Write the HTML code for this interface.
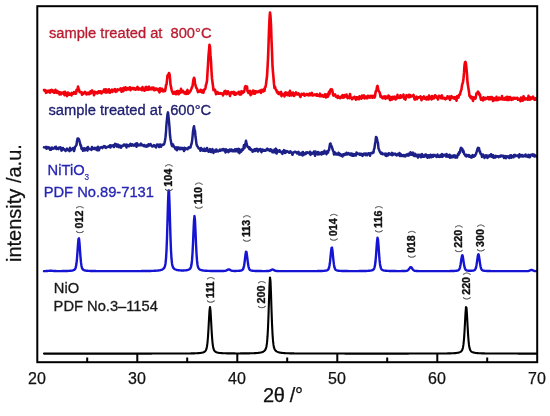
<!DOCTYPE html>
<html><head><meta charset="utf-8"><title>XRD</title>
<style>
html,body{margin:0;padding:0;background:#fff;}
body{width:550px;height:416px;overflow:hidden;}
svg{display:block;}
text{white-space:pre;font-family:"Liberation Sans",Arial,"Noto Sans CJK SC",sans-serif;}
.tl{font-size:16px;fill:#111;stroke:#111;stroke-width:0.25px;}
.ax{font-size:20px;fill:#111;stroke:#111;stroke-width:0.25px;}
.lg{font-size:14.7px;stroke-width:0.32px;}
.hkl{font-size:10px;font-weight:bold;fill:#111;stroke:#111;stroke-width:0.35px;}
.hkl .par{stroke:#555;stroke-width:0.25px;}
.hkl .par{font-weight:normal;fill:#444;font-size:8px;font-family:"Noto Sans CJK SC",sans-serif;}
</style></head><body>
<svg width="550" height="416" viewBox="0 0 550 416">
<rect width="550" height="416" fill="#fff"/>
<path d="M44.0 90.00L44.5 90.57L45.0 90.03L45.5 91.31L46.0 92.85L46.5 90.82L47.0 90.75L47.5 92.10L48.0 92.02L48.5 91.80L49.0 90.68L49.5 91.79L50.0 92.70L50.5 90.42L51.0 91.50L51.5 89.91L52.0 90.68L52.5 90.11L53.0 92.02L53.5 90.90L54.0 92.73L54.5 92.67L55.0 92.34L55.5 89.72L56.0 92.06L56.5 92.69L57.0 92.94L57.5 91.12L58.0 92.39L58.5 91.88L59.0 92.14L59.5 94.36L60.0 92.27L60.5 93.21L61.0 94.31L61.5 92.66L62.0 93.25L62.5 93.55L63.0 93.54L63.5 92.11L64.0 93.65L64.5 95.17L65.0 91.87L65.5 94.68L66.0 93.87L66.5 93.04L67.0 96.12L67.5 94.74L68.0 92.52L68.5 93.97L69.0 94.53L69.5 93.62L70.0 94.60L70.5 93.72L71.0 94.53L71.5 95.39L72.0 92.92L72.5 93.88L73.0 93.06L73.5 93.66L74.0 92.05L74.5 92.61L75.0 92.84L75.5 93.76L76.0 93.53L76.5 89.96L77.0 89.64L77.5 90.33L78.0 86.65L78.5 88.46L79.0 89.60L79.5 92.09L80.0 92.29L80.5 91.77L81.0 92.16L81.5 92.56L82.0 94.76L82.5 92.60L83.0 92.79L83.5 93.58L84.0 93.05L84.5 92.97L85.0 91.92L85.5 93.17L86.0 92.65L86.5 94.48L87.0 93.86L87.5 93.06L88.0 93.83L88.5 92.64L89.0 94.21L89.5 92.96L90.0 93.61L90.5 91.42L91.0 93.27L91.5 90.90L92.0 90.46L92.5 92.42L93.0 91.70L93.5 92.89L94.0 95.25L94.5 91.68L95.0 91.88L95.5 92.83L96.0 93.15L96.5 92.37L97.0 92.32L97.5 93.36L98.0 93.14L98.5 91.34L99.0 92.43L99.5 92.55L100.0 91.29L100.5 92.72L101.0 91.36L101.5 93.39L102.0 92.42L102.5 92.23L103.0 91.37L103.5 91.84L104.0 89.60L104.5 90.53L105.0 92.17L105.5 89.23L106.0 92.57L106.5 89.52L107.0 92.32L107.5 90.40L108.0 92.20L108.5 91.38L109.0 89.38L109.5 92.51L110.0 92.66L110.5 90.87L111.0 90.59L111.5 90.67L112.0 89.68L112.5 92.01L113.0 90.08L113.5 90.59L114.0 89.69L114.5 89.83L115.0 89.03L115.5 91.90L116.0 90.22L116.5 91.46L117.0 90.32L117.5 89.45L118.0 89.82L118.5 89.51L119.0 90.11L119.5 89.62L120.0 89.66L120.5 88.35L121.0 88.93L121.5 91.70L122.0 88.95L122.5 88.44L123.0 89.98L123.5 91.14L124.0 87.78L124.5 89.14L125.0 88.59L125.5 87.22L126.0 90.02L126.5 89.08L127.0 89.12L127.5 88.10L128.0 89.42L128.5 88.24L129.0 88.66L129.5 87.52L130.0 87.36L130.5 90.26L131.0 88.10L131.5 88.99L132.0 88.58L132.5 88.07L133.0 87.96L133.5 89.23L134.0 88.12L134.5 88.26L135.0 88.43L135.5 89.76L136.0 89.20L136.5 88.87L137.0 87.79L137.5 86.86L138.0 89.56L138.5 89.59L139.0 88.32L139.5 89.12L140.0 89.40L140.5 89.47L141.0 89.58L141.5 88.01L142.0 90.29L142.5 87.12L143.0 89.55L143.5 89.14L144.0 89.59L144.5 90.75L145.0 90.31L145.5 87.34L146.0 86.77L146.5 89.70L147.0 87.65L147.5 88.85L148.0 89.89L148.5 87.08L149.0 86.60L149.5 89.38L150.0 89.18L150.5 88.90L151.0 89.27L151.5 88.29L152.0 87.59L152.5 89.18L153.0 88.31L153.5 87.58L154.0 90.10L154.5 89.49L155.0 90.07L155.5 88.52L156.0 88.95L156.5 88.61L157.0 88.78L157.5 90.07L158.0 88.99L158.5 90.33L159.0 90.35L159.5 92.31L160.0 88.40L160.5 91.16L161.0 90.16L161.5 90.36L162.0 88.80L162.5 90.00L163.0 91.42L163.5 90.46L164.0 90.55L164.5 89.88L165.0 91.08L165.5 88.89L166.0 85.01L166.5 84.66L167.0 80.33L167.5 75.36L168.0 74.91L168.5 74.55L169.0 72.99L169.5 74.08L170.0 78.22L170.5 84.57L171.0 86.85L171.5 89.36L172.0 91.14L172.5 92.18L173.0 93.59L173.5 93.58L174.0 93.32L174.5 91.91L175.0 93.67L175.5 92.24L176.0 94.20L176.5 91.38L177.0 92.56L177.5 92.58L178.0 90.92L178.5 94.27L179.0 93.81L179.5 91.44L180.0 92.69L180.5 92.29L181.0 88.89L181.5 92.23L182.0 91.91L182.5 92.11L183.0 90.81L183.5 91.76L184.0 91.89L184.5 93.48L185.0 92.51L185.5 92.13L186.0 93.89L186.5 91.48L187.0 91.65L187.5 89.95L188.0 93.77L188.5 92.98L189.0 92.79L189.5 92.30L190.0 91.35L190.5 90.98L191.0 89.65L191.5 88.47L192.0 86.98L192.5 86.31L193.0 82.51L193.5 79.41L194.0 77.80L194.5 78.74L195.0 83.69L195.5 85.11L196.0 86.94L196.5 88.23L197.0 88.56L197.5 90.53L198.0 92.07L198.5 90.88L199.0 91.23L199.5 91.32L200.0 91.73L200.5 89.79L201.0 91.33L201.5 90.56L202.0 92.47L202.5 90.42L203.0 91.77L203.5 92.58L204.0 90.08L204.5 89.20L205.0 89.29L205.5 87.80L206.0 84.70L206.5 83.40L207.0 80.87L207.5 72.38L208.0 65.09L208.5 55.97L209.0 50.26L209.5 44.73L210.0 46.63L210.5 55.68L211.0 61.35L211.5 71.54L212.0 78.66L212.5 82.25L213.0 86.17L213.5 90.22L214.0 89.36L214.5 90.00L215.0 89.88L215.5 92.05L216.0 94.14L216.5 93.90L217.0 92.02L217.5 92.24L218.0 92.73L218.5 93.71L219.0 93.18L219.5 93.69L220.0 93.79L220.5 93.10L221.0 93.39L221.5 93.65L222.0 93.29L222.5 93.93L223.0 95.46L223.5 93.94L224.0 93.27L224.5 91.22L225.0 93.55L225.5 90.89L226.0 91.54L226.5 94.17L227.0 94.02L227.5 93.06L228.0 91.28L228.5 92.84L229.0 92.51L229.5 94.04L230.0 95.91L230.5 93.58L231.0 92.45L231.5 92.01L232.0 93.30L232.5 93.17L233.0 92.06L233.5 93.52L234.0 92.07L234.5 94.68L235.0 94.62L235.5 94.67L236.0 92.90L236.5 94.05L237.0 93.33L237.5 93.05L238.0 93.11L238.5 92.02L239.0 91.85L239.5 94.42L240.0 93.28L240.5 93.66L241.0 94.45L241.5 91.17L242.0 92.09L242.5 92.93L243.0 92.79L243.5 91.30L244.0 92.04L244.5 89.94L245.0 86.98L245.5 86.17L246.0 87.81L246.5 88.04L247.0 86.49L247.5 91.41L248.0 91.49L248.5 93.01L249.0 91.42L249.5 91.75L250.0 90.90L250.5 95.22L251.0 92.17L251.5 94.25L252.0 91.71L252.5 92.67L253.0 90.57L253.5 92.05L254.0 93.62L254.5 91.04L255.0 93.70L255.5 92.83L256.0 91.21L256.5 91.79L257.0 91.80L257.5 92.21L258.0 91.58L258.5 91.23L259.0 91.81L259.5 90.93L260.0 90.57L260.5 91.90L261.0 92.86L261.5 89.93L262.0 91.50L262.5 90.47L263.0 89.75L263.5 91.42L264.0 89.29L264.5 90.87L265.0 87.23L265.5 87.09L266.0 84.16L266.5 80.13L267.0 76.50L267.5 68.17L268.0 58.88L268.5 45.44L269.0 30.17L269.5 18.75L270.0 12.47L270.5 16.47L271.0 25.13L271.5 40.15L272.0 51.78L272.5 65.85L273.0 72.49L273.5 77.78L274.0 83.94L274.5 88.03L275.0 86.85L275.5 88.62L276.0 89.95L276.5 90.23L277.0 92.55L277.5 91.67L278.0 92.17L278.5 93.92L279.0 92.59L279.5 94.12L280.0 92.64L280.5 92.47L281.0 91.85L281.5 96.17L282.0 93.72L282.5 94.42L283.0 94.14L283.5 94.39L284.0 94.28L284.5 96.43L285.0 93.05L285.5 92.45L286.0 93.08L286.5 92.70L287.0 95.08L287.5 95.15L288.0 93.08L288.5 92.57L289.0 93.74L289.5 95.73L290.0 90.86L290.5 94.74L291.0 92.94L291.5 95.41L292.0 93.01L292.5 93.95L293.0 92.58L293.5 93.22L294.0 95.97L294.5 95.35L295.0 93.98L295.5 93.47L296.0 92.32L296.5 94.07L297.0 94.51L297.5 94.48L298.0 94.49L298.5 93.34L299.0 94.58L299.5 94.63L300.0 96.18L300.5 96.87L301.0 94.60L301.5 93.90L302.0 94.73L302.5 94.14L303.0 94.01L303.5 94.82L304.0 93.71L304.5 95.63L305.0 94.84L305.5 95.27L306.0 94.80L306.5 94.20L307.0 93.97L307.5 94.81L308.0 94.48L308.5 95.40L309.0 95.15L309.5 93.61L310.0 95.28L310.5 93.68L311.0 94.54L311.5 94.93L312.0 92.90L312.5 95.42L313.0 95.51L313.5 95.17L314.0 94.89L314.5 94.97L315.0 94.30L315.5 95.13L316.0 94.82L316.5 95.58L317.0 94.11L317.5 95.79L318.0 95.70L318.5 95.39L319.0 95.06L319.5 96.22L320.0 93.69L320.5 96.18L321.0 95.99L321.5 96.09L322.0 96.25L322.5 95.11L323.0 95.60L323.5 96.68L324.0 96.48L324.5 96.25L325.0 94.30L325.5 96.68L326.0 97.41L326.5 97.21L327.0 96.27L327.5 94.06L328.0 96.70L328.5 95.05L329.0 91.69L329.5 94.14L330.0 90.80L330.5 89.65L331.0 89.20L331.5 90.89L332.0 89.54L332.5 91.53L333.0 94.64L333.5 95.69L334.0 94.68L334.5 95.18L335.0 94.44L335.5 95.37L336.0 96.84L336.5 96.93L337.0 96.70L337.5 97.79L338.0 95.82L338.5 96.70L339.0 97.66L339.5 97.53L340.0 98.13L340.5 97.38L341.0 96.59L341.5 97.39L342.0 95.84L342.5 95.12L343.0 97.69L343.5 96.98L344.0 97.41L344.5 95.12L345.0 96.67L345.5 96.41L346.0 96.12L346.5 94.53L347.0 96.75L347.5 98.18L348.0 97.60L348.5 96.48L349.0 97.16L349.5 98.06L350.0 94.03L350.5 97.07L351.0 97.86L351.5 98.03L352.0 99.22L352.5 98.59L353.0 97.66L353.5 97.66L354.0 98.23L354.5 96.72L355.0 97.31L355.5 98.42L356.0 99.64L356.5 97.22L357.0 97.36L357.5 97.66L358.0 98.99L358.5 97.43L359.0 99.16L359.5 96.38L360.0 97.29L360.5 97.24L361.0 98.34L361.5 98.61L362.0 95.63L362.5 96.28L363.0 97.69L363.5 96.51L364.0 95.48L364.5 98.39L365.0 97.73L365.5 97.69L366.0 96.53L366.5 98.22L367.0 96.72L367.5 98.21L368.0 95.85L368.5 95.93L369.0 97.15L369.5 96.10L370.0 97.68L370.5 97.18L371.0 95.79L371.5 96.89L372.0 96.34L372.5 97.70L373.0 95.76L373.5 95.72L374.0 97.19L374.5 97.67L375.0 96.32L375.5 92.59L376.0 90.86L376.5 90.35L377.0 86.97L377.5 85.86L378.0 88.44L378.5 90.87L379.0 91.41L379.5 92.14L380.0 93.60L380.5 96.84L381.0 95.74L381.5 96.80L382.0 97.44L382.5 98.08L383.0 97.11L383.5 98.10L384.0 96.51L384.5 97.12L385.0 96.35L385.5 98.81L386.0 97.46L386.5 96.61L387.0 97.02L387.5 97.14L388.0 98.17L388.5 95.49L389.0 96.09L389.5 96.81L390.0 100.11L390.5 98.30L391.0 97.08L391.5 98.03L392.0 99.58L392.5 96.95L393.0 96.80L393.5 98.61L394.0 97.79L394.5 97.99L395.0 96.64L395.5 99.43L396.0 99.18L396.5 97.87L397.0 98.00L397.5 94.88L398.0 97.94L398.5 96.99L399.0 97.71L399.5 97.99L400.0 96.81L400.5 95.27L401.0 97.64L401.5 96.38L402.0 96.86L402.5 96.55L403.0 96.86L403.5 94.60L404.0 98.66L404.5 97.56L405.0 98.55L405.5 99.55L406.0 97.30L406.5 95.19L407.0 96.22L407.5 95.83L408.0 96.60L408.5 97.20L409.0 94.70L409.5 97.26L410.0 94.96L410.5 96.85L411.0 96.22L411.5 95.91L412.0 96.24L412.5 95.85L413.0 95.97L413.5 94.94L414.0 97.01L414.5 99.31L415.0 99.57L415.5 98.89L416.0 98.23L416.5 96.68L417.0 99.15L417.5 97.45L418.0 97.46L418.5 97.22L419.0 97.68L419.5 97.09L420.0 97.50L420.5 96.37L421.0 97.20L421.5 100.26L422.0 97.57L422.5 97.39L423.0 98.28L423.5 98.50L424.0 96.41L424.5 97.46L425.0 98.77L425.5 98.03L426.0 97.87L426.5 99.53L427.0 96.97L427.5 97.85L428.0 97.17L428.5 99.49L429.0 95.54L429.5 97.02L430.0 97.19L430.5 98.55L431.0 98.48L431.5 99.38L432.0 95.96L432.5 98.62L433.0 97.41L433.5 96.97L434.0 98.35L434.5 96.66L435.0 95.32L435.5 97.27L436.0 95.97L436.5 96.93L437.0 98.10L437.5 98.02L438.0 99.47L438.5 97.41L439.0 95.86L439.5 96.74L440.0 96.54L440.5 96.23L441.0 98.17L441.5 96.96L442.0 95.46L442.5 98.56L443.0 97.67L443.5 98.23L444.0 97.98L444.5 98.61L445.0 97.96L445.5 99.36L446.0 98.45L446.5 98.44L447.0 98.49L447.5 96.36L448.0 97.87L448.5 97.78L449.0 98.34L449.5 96.55L450.0 100.00L450.5 98.26L451.0 96.75L451.5 96.18L452.0 97.82L452.5 98.04L453.0 97.30L453.5 98.22L454.0 97.35L454.5 98.68L455.0 97.17L455.5 97.88L456.0 98.95L456.5 100.66L457.0 96.39L457.5 96.81L458.0 96.10L458.5 97.59L459.0 94.85L459.5 94.90L460.0 94.48L460.5 92.16L461.0 90.65L461.5 89.37L462.0 85.38L462.5 83.66L463.0 81.78L463.5 78.38L464.0 72.89L464.5 65.44L465.0 62.22L465.5 61.97L466.0 64.15L466.5 68.94L467.0 74.52L467.5 82.30L468.0 85.83L468.5 88.83L469.0 91.84L469.5 96.17L470.0 95.91L470.5 97.76L471.0 96.40L471.5 98.42L472.0 96.93L472.5 97.66L473.0 100.86L473.5 98.92L474.0 97.44L474.5 97.81L475.0 98.03L475.5 98.59L476.0 95.88L476.5 93.33L477.0 93.59L477.5 92.43L478.0 91.53L478.5 93.05L479.0 93.06L479.5 95.16L480.0 94.35L480.5 97.66L481.0 99.79L481.5 98.71L482.0 98.37L482.5 98.41L483.0 100.38L483.5 97.31L484.0 98.29L484.5 98.96L485.0 99.30L485.5 97.95L486.0 98.80L486.5 98.12L487.0 98.56L487.5 98.26L488.0 97.08L488.5 98.35L489.0 99.36L489.5 97.21L490.0 98.02L490.5 99.08L491.0 97.09L491.5 98.55L492.0 97.13L492.5 99.66L493.0 101.02L493.5 100.70L494.0 98.13L494.5 99.24L495.0 98.53L495.5 98.52L496.0 100.19L496.5 96.89L497.0 99.63L497.5 98.37L498.0 100.05L498.5 98.65L499.0 97.66L499.5 98.76L500.0 99.29L500.5 98.49L501.0 99.01L501.5 97.86L502.0 96.00L502.5 99.50L503.0 99.27L503.5 98.64L504.0 98.55L504.5 99.67L505.0 97.95L505.5 97.67L506.0 98.27L506.5 99.85L507.0 96.89L507.5 99.86L508.0 97.76L508.5 97.23L509.0 99.94L509.5 98.39L510.0 97.00L510.5 98.09L511.0 99.57L511.5 99.87L512.0 98.01L512.5 98.97L513.0 99.32L513.5 97.76L514.0 98.91L514.5 98.47L515.0 97.89L515.5 97.94L516.0 98.58L516.5 98.54L517.0 97.86L517.5 98.02L518.0 99.79L518.5 98.75L519.0 99.52L519.5 99.89L520.0 99.18L520.5 101.12L521.0 97.56L521.5 99.44L522.0 98.14L522.5 100.64L523.0 100.46L523.5 96.26L524.0 97.39L524.5 99.27L525.0 99.41L525.5 99.35L526.0 98.42L526.5 99.03L527.0 99.26L527.5 98.42L528.0 99.69L528.5 95.91L529.0 99.23L529.5 97.32L530.0 99.61L530.5 98.24L531.0 97.48L531.5 98.93L532.0 97.45L532.5 97.45L533.0 96.70L533.5 98.47L534.0 99.07L534.5 99.68L535.0 98.34L535.5 99.71L536.0 98.52L536.5 98.39" fill="none" stroke="#f2000c" stroke-width="2.6" stroke-linejoin="round" stroke-linecap="round"/>
<path d="M44.0 147.26L44.5 147.39L45.0 147.50L45.5 147.75L46.0 146.90L46.5 148.68L47.0 147.43L47.5 148.24L48.0 147.11L48.5 148.22L49.0 148.28L49.5 147.59L50.0 149.82L50.5 148.39L51.0 149.71L51.5 149.03L52.0 147.63L52.5 147.93L53.0 148.73L53.5 148.44L54.0 148.49L54.5 148.24L55.0 146.93L55.5 148.41L56.0 146.67L56.5 149.05L57.0 148.12L57.5 148.19L58.0 148.69L58.5 149.18L59.0 147.70L59.5 147.47L60.0 148.14L60.5 147.29L61.0 148.29L61.5 150.63L62.0 148.28L62.5 149.85L63.0 148.06L63.5 149.59L64.0 149.06L64.5 149.33L65.0 149.92L65.5 151.01L66.0 149.64L66.5 149.60L67.0 148.63L67.5 150.06L68.0 149.33L68.5 150.32L69.0 149.54L69.5 151.16L70.0 147.82L70.5 149.30L71.0 150.31L71.5 149.15L72.0 148.68L72.5 149.08L73.0 147.97L73.5 149.18L74.0 151.06L74.5 149.59L75.0 147.05L75.5 146.44L76.0 145.58L76.5 145.00L77.0 141.00L77.5 138.66L78.0 138.43L78.5 138.61L79.0 139.40L79.5 141.22L80.0 143.09L80.5 145.59L81.0 145.39L81.5 148.81L82.0 148.02L82.5 149.30L83.0 150.73L83.5 150.23L84.0 148.23L84.5 150.12L85.0 150.44L85.5 148.72L86.0 148.52L86.5 149.26L87.0 147.89L87.5 150.62L88.0 147.10L88.5 148.23L89.0 148.94L89.5 148.93L90.0 149.24L90.5 149.29L91.0 148.81L91.5 149.98L92.0 146.98L92.5 148.86L93.0 148.16L93.5 148.87L94.0 148.90L94.5 147.83L95.0 148.02L95.5 149.23L96.0 148.76L96.5 147.75L97.0 150.12L97.5 150.28L98.0 146.81L98.5 148.31L99.0 150.22L99.5 148.59L100.0 148.00L100.5 147.54L101.0 147.16L101.5 147.39L102.0 147.01L102.5 148.10L103.0 146.99L103.5 146.88L104.0 146.12L104.5 147.08L105.0 146.25L105.5 146.82L106.0 147.84L106.5 147.16L107.0 147.21L107.5 147.00L108.0 146.66L108.5 146.41L109.0 146.17L109.5 147.06L110.0 145.32L110.5 147.47L111.0 146.26L111.5 145.52L112.0 145.72L112.5 145.52L113.0 146.24L113.5 145.41L114.0 147.05L114.5 145.28L115.0 143.91L115.5 145.26L116.0 144.07L116.5 145.81L117.0 146.76L117.5 146.36L118.0 144.54L118.5 145.02L119.0 147.27L119.5 145.92L120.0 145.60L120.5 146.54L121.0 147.78L121.5 146.72L122.0 145.67L122.5 145.85L123.0 146.07L123.5 144.95L124.0 144.53L124.5 145.51L125.0 144.60L125.5 145.38L126.0 145.51L126.5 147.51L127.0 144.63L127.5 145.27L128.0 145.21L128.5 145.74L129.0 146.27L129.5 144.87L130.0 144.56L130.5 143.82L131.0 144.47L131.5 145.79L132.0 145.34L132.5 144.39L133.0 144.97L133.5 145.33L134.0 145.76L134.5 144.77L135.0 145.08L135.5 143.67L136.0 144.27L136.5 146.76L137.0 143.34L137.5 145.00L138.0 145.50L138.5 144.97L139.0 144.57L139.5 145.25L140.0 145.30L140.5 145.24L141.0 143.64L141.5 145.21L142.0 144.58L142.5 144.87L143.0 145.58L143.5 145.96L144.0 146.21L144.5 144.96L145.0 146.25L145.5 146.49L146.0 146.46L146.5 146.70L147.0 145.33L147.5 145.31L148.0 146.22L148.5 144.25L149.0 145.68L149.5 145.02L150.0 145.17L150.5 143.98L151.0 144.79L151.5 145.61L152.0 146.47L152.5 146.60L153.0 145.68L153.5 145.62L154.0 145.07L154.5 146.21L155.0 145.65L155.5 146.45L156.0 147.50L156.5 145.91L157.0 144.60L157.5 145.17L158.0 144.63L158.5 144.85L159.0 147.08L159.5 146.06L160.0 144.43L160.5 146.33L161.0 146.79L161.5 145.21L162.0 144.75L162.5 144.80L163.0 144.98L163.5 144.72L164.0 144.28L164.5 142.82L165.0 140.46L165.5 137.16L166.0 131.77L166.5 123.90L167.0 118.86L167.5 114.29L168.0 112.36L168.5 116.70L169.0 121.49L169.5 127.44L170.0 135.22L170.5 138.91L171.0 141.65L171.5 144.41L172.0 145.93L172.5 146.21L173.0 144.34L173.5 146.43L174.0 147.01L174.5 146.85L175.0 148.18L175.5 149.20L176.0 147.80L176.5 147.29L177.0 150.20L177.5 148.02L178.0 147.36L178.5 148.71L179.0 148.90L179.5 147.89L180.0 149.25L180.5 148.10L181.0 147.70L181.5 148.68L182.0 149.19L182.5 147.93L183.0 148.80L183.5 148.41L184.0 151.02L184.5 147.82L185.0 149.68L185.5 148.35L186.0 148.23L186.5 148.93L187.0 149.00L187.5 149.28L188.0 148.34L188.5 147.37L189.0 147.23L189.5 147.87L190.0 147.45L190.5 147.41L191.0 145.30L191.5 144.01L192.0 141.77L192.5 137.11L193.0 131.68L193.5 128.34L194.0 126.22L194.5 129.86L195.0 130.88L195.5 136.81L196.0 140.03L196.5 144.13L197.0 145.76L197.5 146.33L198.0 147.27L198.5 148.21L199.0 148.76L199.5 148.46L200.0 149.17L200.5 150.82L201.0 147.98L201.5 149.87L202.0 148.92L202.5 149.98L203.0 150.64L203.5 149.90L204.0 150.71L204.5 148.63L205.0 151.10L205.5 149.60L206.0 150.74L206.5 150.38L207.0 147.92L207.5 149.60L208.0 150.50L208.5 151.73L209.0 150.61L209.5 150.61L210.0 149.13L210.5 151.71L211.0 152.07L211.5 150.48L212.0 150.28L212.5 149.04L213.0 151.30L213.5 152.96L214.0 151.19L214.5 151.69L215.0 151.06L215.5 149.70L216.0 151.80L216.5 149.50L217.0 150.44L217.5 150.89L218.0 151.45L218.5 151.04L219.0 151.02L219.5 150.00L220.0 149.54L220.5 150.75L221.0 150.05L221.5 149.51L222.0 149.55L222.5 150.24L223.0 149.01L223.5 149.46L224.0 149.20L224.5 150.83L225.0 151.03L225.5 152.46L226.0 149.30L226.5 150.03L227.0 151.46L227.5 150.44L228.0 150.33L228.5 152.16L229.0 150.31L229.5 149.57L230.0 149.41L230.5 150.93L231.0 150.92L231.5 149.44L232.0 149.81L232.5 151.20L233.0 151.26L233.5 150.18L234.0 151.34L234.5 151.31L235.0 149.21L235.5 150.54L236.0 151.21L236.5 150.33L237.0 148.93L237.5 150.61L238.0 151.54L238.5 152.28L239.0 148.88L239.5 153.18L240.0 149.79L240.5 151.55L241.0 151.67L241.5 151.27L242.0 150.28L242.5 148.73L243.0 149.78L243.5 147.73L244.0 144.89L244.5 148.13L245.0 144.41L245.5 143.80L246.0 140.65L246.5 143.42L247.0 145.07L247.5 146.78L248.0 146.87L248.5 146.95L249.0 148.65L249.5 147.32L250.0 148.07L250.5 149.86L251.0 148.98L251.5 149.79L252.0 149.88L252.5 151.74L253.0 151.19L253.5 149.98L254.0 151.11L254.5 149.31L255.0 149.70L255.5 150.84L256.0 148.91L256.5 149.79L257.0 148.86L257.5 150.17L258.0 151.54L258.5 149.40L259.0 150.28L259.5 149.28L260.0 149.05L260.5 148.98L261.0 151.40L261.5 152.22L262.0 150.53L262.5 149.45L263.0 150.73L263.5 149.80L264.0 150.82L264.5 150.36L265.0 150.35L265.5 150.69L266.0 149.67L266.5 149.87L267.0 148.73L267.5 149.93L268.0 149.09L268.5 150.29L269.0 149.60L269.5 150.60L270.0 150.96L270.5 149.32L271.0 149.91L271.5 149.84L272.0 151.41L272.5 152.31L273.0 151.59L273.5 150.55L274.0 152.23L274.5 149.59L275.0 152.35L275.5 150.47L276.0 148.62L276.5 153.57L277.0 152.66L277.5 150.37L278.0 151.51L278.5 151.23L279.0 151.57L279.5 150.21L280.0 150.99L280.5 152.05L281.0 151.86L281.5 152.77L282.0 151.79L282.5 153.87L283.0 151.14L283.5 152.04L284.0 150.12L284.5 150.74L285.0 153.10L285.5 151.08L286.0 152.44L286.5 151.94L287.0 151.08L287.5 151.74L288.0 151.62L288.5 151.67L289.0 152.82L289.5 152.76L290.0 151.68L290.5 151.42L291.0 152.53L291.5 152.23L292.0 153.29L292.5 154.79L293.0 153.20L293.5 152.45L294.0 152.37L294.5 151.79L295.0 151.79L295.5 151.74L296.0 152.33L296.5 152.34L297.0 153.43L297.5 152.44L298.0 152.66L298.5 151.78L299.0 154.40L299.5 153.42L300.0 154.61L300.5 153.72L301.0 154.35L301.5 152.79L302.0 153.67L302.5 155.46L303.0 151.93L303.5 154.10L304.0 154.57L304.5 153.43L305.0 153.74L305.5 154.21L306.0 152.46L306.5 153.44L307.0 152.27L307.5 152.45L308.0 152.51L308.5 152.95L309.0 153.22L309.5 153.51L310.0 151.79L310.5 154.92L311.0 154.17L311.5 153.78L312.0 152.78L312.5 153.03L313.0 153.62L313.5 153.50L314.0 151.57L314.5 153.81L315.0 155.81L315.5 151.42L316.0 154.04L316.5 153.47L317.0 153.02L317.5 154.39L318.0 152.03L318.5 153.27L319.0 154.47L319.5 152.93L320.0 152.71L320.5 153.23L321.0 152.73L321.5 154.59L322.0 152.34L322.5 153.99L323.0 152.03L323.5 153.81L324.0 153.08L324.5 150.76L325.0 153.11L325.5 152.07L326.0 152.54L326.5 154.22L327.0 151.48L327.5 151.08L328.0 152.64L328.5 150.29L329.0 150.04L329.5 146.99L330.0 143.95L330.5 143.47L331.0 144.86L331.5 146.11L332.0 147.30L332.5 149.28L333.0 150.69L333.5 151.38L334.0 154.46L334.5 153.17L335.0 152.44L335.5 153.27L336.0 154.55L336.5 154.60L337.0 153.99L337.5 153.60L338.0 154.32L338.5 152.79L339.0 153.17L339.5 155.14L340.0 153.98L340.5 154.79L341.0 155.59L341.5 155.08L342.0 154.51L342.5 156.48L343.0 155.14L343.5 154.20L344.0 155.21L344.5 154.92L345.0 153.76L345.5 154.62L346.0 154.41L346.5 152.75L347.0 154.41L347.5 154.31L348.0 154.17L348.5 153.06L349.0 154.26L349.5 154.55L350.0 154.69L350.5 153.54L351.0 155.18L351.5 153.47L352.0 154.39L352.5 155.81L353.0 153.96L353.5 154.13L354.0 155.59L354.5 154.25L355.0 154.33L355.5 154.80L356.0 155.55L356.5 152.53L357.0 153.80L357.5 153.62L358.0 153.54L358.5 153.74L359.0 153.74L359.5 154.78L360.0 153.67L360.5 154.59L361.0 154.83L361.5 153.77L362.0 154.55L362.5 155.92L363.0 154.69L363.5 153.79L364.0 154.29L364.5 153.48L365.0 154.55L365.5 155.08L366.0 153.52L366.5 154.06L367.0 155.25L367.5 153.74L368.0 154.33L368.5 153.17L369.0 153.30L369.5 153.51L370.0 155.85L370.5 153.40L371.0 153.14L371.5 152.90L372.0 152.94L372.5 153.20L373.0 152.02L373.5 152.54L374.0 149.16L374.5 147.93L375.0 143.98L375.5 141.18L376.0 136.89L376.5 137.41L377.0 138.97L377.5 141.68L378.0 143.07L378.5 148.52L379.0 149.48L379.5 150.93L380.0 152.10L380.5 152.78L381.0 153.77L381.5 152.55L382.0 153.06L382.5 154.32L383.0 154.31L383.5 153.94L384.0 153.85L384.5 153.69L385.0 154.45L385.5 155.61L386.0 153.63L386.5 155.99L387.0 155.41L387.5 154.27L388.0 155.40L388.5 153.40L389.0 153.18L389.5 153.59L390.0 154.40L390.5 154.49L391.0 154.33L391.5 154.90L392.0 152.89L392.5 155.27L393.0 153.56L393.5 154.25L394.0 154.48L394.5 153.81L395.0 153.63L395.5 153.96L396.0 154.86L396.5 155.41L397.0 155.39L397.5 153.99L398.0 154.18L398.5 154.06L399.0 155.30L399.5 153.06L400.0 156.01L400.5 154.48L401.0 154.23L401.5 155.26L402.0 155.91L402.5 155.30L403.0 155.96L403.5 155.15L404.0 156.15L404.5 156.18L405.0 154.98L405.5 156.37L406.0 155.23L406.5 155.16L407.0 154.24L407.5 154.78L408.0 155.69L408.5 153.73L409.0 155.38L409.5 154.96L410.0 154.72L410.5 152.32L411.0 154.11L411.5 154.79L412.0 153.65L412.5 154.62L413.0 152.61L413.5 155.55L414.0 154.51L414.5 156.02L415.0 153.67L415.5 156.03L416.0 155.24L416.5 156.23L417.0 154.70L417.5 155.01L418.0 157.62L418.5 154.88L419.0 155.02L419.5 155.43L420.0 154.78L420.5 156.78L421.0 157.27L421.5 155.09L422.0 154.18L422.5 156.79L423.0 156.74L423.5 156.49L424.0 156.80L424.5 154.98L425.0 155.62L425.5 154.53L426.0 154.50L426.5 156.67L427.0 155.19L427.5 157.85L428.0 155.87L428.5 155.23L429.0 156.53L429.5 157.44L430.0 156.26L430.5 154.73L431.0 156.16L431.5 157.07L432.0 155.40L432.5 155.15L433.0 156.76L433.5 155.98L434.0 154.86L434.5 155.52L435.0 155.18L435.5 156.14L436.0 155.97L436.5 156.91L437.0 156.52L437.5 154.48L438.0 156.25L438.5 156.70L439.0 156.30L439.5 156.82L440.0 155.41L440.5 155.06L441.0 156.77L441.5 154.98L442.0 154.01L442.5 156.89L443.0 155.33L443.5 155.72L444.0 154.75L444.5 154.83L445.0 154.99L445.5 155.72L446.0 156.39L446.5 154.00L447.0 156.76L447.5 155.02L448.0 155.14L448.5 156.72L449.0 156.05L449.5 154.74L450.0 157.78L450.5 155.35L451.0 156.35L451.5 156.31L452.0 157.39L452.5 155.71L453.0 157.01L453.5 155.42L454.0 157.08L454.5 155.35L455.0 155.67L455.5 157.65L456.0 156.15L456.5 155.84L457.0 157.59L457.5 155.63L458.0 154.16L458.5 154.94L459.0 152.34L459.5 153.27L460.0 151.96L460.5 148.93L461.0 147.78L461.5 148.22L462.0 148.75L462.5 149.16L463.0 152.01L463.5 150.97L464.0 153.48L464.5 154.28L465.0 154.94L465.5 155.82L466.0 154.68L466.5 156.47L467.0 155.89L467.5 155.55L468.0 154.96L468.5 155.17L469.0 156.59L469.5 155.42L470.0 156.36L470.5 157.24L471.0 157.18L471.5 157.62L472.0 155.89L472.5 155.11L473.0 156.90L473.5 156.12L474.0 156.64L474.5 155.32L475.0 155.89L475.5 154.86L476.0 153.73L476.5 152.24L477.0 150.62L477.5 148.96L478.0 147.90L478.5 148.48L479.0 148.01L479.5 151.49L480.0 151.37L480.5 153.69L481.0 153.78L481.5 154.41L482.0 156.99L482.5 155.22L483.0 154.58L483.5 155.23L484.0 155.69L484.5 157.99L485.0 156.30L485.5 156.99L486.0 155.29L486.5 156.53L487.0 156.84L487.5 157.88L488.0 155.64L488.5 156.82L489.0 156.56L489.5 155.38L490.0 156.28L490.5 156.07L491.0 154.22L491.5 156.85L492.0 156.80L492.5 155.92L493.0 155.11L493.5 157.65L494.0 156.56L494.5 157.23L495.0 157.59L495.5 155.85L496.0 157.05L496.5 156.10L497.0 156.25L497.5 156.23L498.0 156.30L498.5 157.30L499.0 156.41L499.5 156.16L500.0 156.04L500.5 156.59L501.0 155.48L501.5 155.83L502.0 156.23L502.5 155.76L503.0 156.16L503.5 155.71L504.0 158.06L504.5 157.45L505.0 156.65L505.5 156.20L506.0 158.21L506.5 156.53L507.0 156.15L507.5 156.50L508.0 156.50L508.5 157.48L509.0 156.19L509.5 158.09L510.0 155.41L510.5 156.82L511.0 155.28L511.5 157.81L512.0 155.87L512.5 156.10L513.0 156.98L513.5 157.27L514.0 155.13L514.5 155.81L515.0 154.85L515.5 156.22L516.0 156.00L516.5 155.77L517.0 155.46L517.5 155.71L518.0 155.38L518.5 156.52L519.0 157.40L519.5 154.29L520.0 155.91L520.5 155.63L521.0 156.44L521.5 155.13L522.0 155.85L522.5 155.03L523.0 156.59L523.5 156.04L524.0 155.79L524.5 156.26L525.0 155.70L525.5 154.51L526.0 156.44L526.5 156.15L527.0 155.74L527.5 156.76L528.0 156.96L528.5 154.87L529.0 155.14L529.5 157.23L530.0 157.10L530.5 155.15L531.0 154.74L531.5 155.22L532.0 155.34L532.5 154.35L533.0 155.80L533.5 154.61L534.0 154.66L534.5 156.56L535.0 155.11L535.5 155.65L536.0 156.28L536.5 156.43" fill="none" stroke="#1d2088" stroke-width="2.5" stroke-linejoin="round" stroke-linecap="round"/>
<path d="M44.0 271.13L44.5 271.12L45.0 271.11L45.5 271.09L46.0 271.07L46.5 271.05L47.0 271.01L47.5 270.98L48.0 270.93L48.5 270.89L49.0 270.84L49.5 270.80L50.0 270.77L50.5 270.76L51.0 270.76L51.5 270.77L52.0 270.80L52.5 270.84L53.0 270.89L53.5 270.93L54.0 270.97L54.5 271.00L55.0 271.03L55.5 271.05L56.0 271.07L56.5 271.08L57.0 271.09L57.5 271.09L58.0 271.09L58.5 271.09L59.0 271.09L59.5 271.09L60.0 271.09L60.5 271.09L61.0 271.08L61.5 271.08L62.0 271.07L62.5 271.07L63.0 271.06L63.5 271.05L64.0 271.05L64.5 271.04L65.0 271.03L65.5 271.01L66.0 271.00L66.5 270.99L67.0 270.97L67.5 270.95L68.0 270.93L68.5 270.91L69.0 270.88L69.5 270.85L70.0 270.81L70.5 270.76L71.0 270.71L71.5 270.64L72.0 270.57L72.5 270.47L73.0 270.35L73.5 270.19L74.0 269.98L74.5 269.67L75.0 269.15L75.5 268.21L76.0 266.43L76.5 263.29L77.0 258.36L77.5 251.71L78.0 244.41L78.5 238.94L79.0 238.36L79.5 243.06L80.0 250.24L80.5 257.15L81.0 262.46L81.5 265.93L82.0 267.93L82.5 269.01L83.0 269.59L83.5 269.93L84.0 270.15L84.5 270.32L85.0 270.45L85.5 270.55L86.0 270.63L86.5 270.69L87.0 270.75L87.5 270.80L88.0 270.84L88.5 270.87L89.0 270.90L89.5 270.92L90.0 270.95L90.5 270.97L91.0 270.98L91.5 271.00L92.0 271.01L92.5 271.02L93.0 271.03L93.5 271.04L94.0 271.05L94.5 271.06L95.0 271.07L95.5 271.07L96.0 271.08L96.5 271.08L97.0 271.09L97.5 271.09L98.0 271.10L98.5 271.10L99.0 271.10L99.5 271.11L100.0 271.11L100.5 271.11L101.0 271.11L101.5 271.12L102.0 271.12L102.5 271.12L103.0 271.12L103.5 271.12L104.0 271.13L104.5 271.13L105.0 271.13L105.5 271.13L106.0 271.13L106.5 271.13L107.0 271.13L107.5 271.13L108.0 271.14L108.5 271.14L109.0 271.14L109.5 271.14L110.0 271.14L110.5 271.14L111.0 271.14L111.5 271.14L112.0 271.14L112.5 271.14L113.0 271.14L113.5 271.14L114.0 271.14L114.5 271.14L115.0 271.14L115.5 271.14L116.0 271.14L116.5 271.14L117.0 271.14L117.5 271.14L118.0 271.14L118.5 271.14L119.0 271.14L119.5 271.14L120.0 271.14L120.5 271.14L121.0 271.14L121.5 271.14L122.0 271.14L122.5 271.14L123.0 271.14L123.5 271.14L124.0 271.14L124.5 271.13L125.0 271.13L125.5 271.13L126.0 271.13L126.5 271.13L127.0 271.13L127.5 271.13L128.0 271.13L128.5 271.13L129.0 271.13L129.5 271.13L130.0 271.12L130.5 271.12L131.0 271.12L131.5 271.12L132.0 271.12L132.5 271.12L133.0 271.12L133.5 271.11L134.0 271.11L134.5 271.11L135.0 271.11L135.5 271.11L136.0 271.10L136.5 271.10L137.0 271.10L137.5 271.10L138.0 271.09L138.5 271.09L139.0 271.09L139.5 271.09L140.0 271.08L140.5 271.08L141.0 271.08L141.5 271.07L142.0 271.07L142.5 271.06L143.0 271.06L143.5 271.05L144.0 271.05L144.5 271.04L145.0 271.04L145.5 271.03L146.0 271.03L146.5 271.02L147.0 271.01L147.5 271.00L148.0 271.00L148.5 270.99L149.0 270.98L149.5 270.97L150.0 270.96L150.5 270.94L151.0 270.93L151.5 270.92L152.0 270.90L152.5 270.88L153.0 270.87L153.5 270.84L154.0 270.82L154.5 270.80L155.0 270.77L155.5 270.74L156.0 270.71L156.5 270.67L157.0 270.63L157.5 270.58L158.0 270.52L158.5 270.46L159.0 270.39L159.5 270.31L160.0 270.21L160.5 270.09L161.0 269.96L161.5 269.79L162.0 269.59L162.5 269.35L163.0 269.04L163.5 268.64L164.0 268.10L164.5 267.30L165.0 265.94L165.5 263.43L166.0 258.76L166.5 250.59L167.0 237.92L167.5 221.12L168.0 203.18L168.5 190.55L169.0 190.55L169.5 203.17L170.0 221.11L170.5 237.90L171.0 250.57L171.5 258.73L172.0 263.40L172.5 265.89L173.0 267.24L173.5 268.04L174.0 268.58L174.5 268.96L175.0 269.27L175.5 269.50L176.0 269.69L176.5 269.85L177.0 269.97L177.5 270.08L178.0 270.16L178.5 270.24L179.0 270.29L179.5 270.34L180.0 270.38L180.5 270.41L181.0 270.43L181.5 270.45L182.0 270.46L182.5 270.46L183.0 270.46L183.5 270.45L184.0 270.43L184.5 270.41L185.0 270.37L185.5 270.33L186.0 270.28L186.5 270.21L187.0 270.12L187.5 270.01L188.0 269.88L188.5 269.70L189.0 269.48L189.5 269.18L190.0 268.76L190.5 268.08L191.0 266.87L191.5 264.58L192.0 260.41L192.5 253.51L193.0 243.56L193.5 231.58L194.0 220.72L194.5 216.07L195.0 220.72L195.5 231.60L196.0 243.59L196.5 253.55L197.0 260.46L197.5 264.63L198.0 266.93L198.5 268.15L199.0 268.84L199.5 269.27L200.0 269.58L200.5 269.81L201.0 270.00L201.5 270.15L202.0 270.27L202.5 270.37L203.0 270.45L203.5 270.53L204.0 270.59L204.5 270.64L205.0 270.68L205.5 270.72L206.0 270.76L206.5 270.79L207.0 270.81L207.5 270.84L208.0 270.86L208.5 270.88L209.0 270.90L209.5 270.91L210.0 270.93L210.5 270.94L211.0 270.95L211.5 270.96L212.0 270.97L212.5 270.98L213.0 270.99L213.5 270.99L214.0 271.00L214.5 271.01L215.0 271.01L215.5 271.02L216.0 271.02L216.5 271.02L217.0 271.03L217.5 271.03L218.0 271.03L218.5 271.03L219.0 271.03L219.5 271.03L220.0 271.03L220.5 271.03L221.0 271.03L221.5 271.02L222.0 271.02L222.5 271.01L223.0 271.00L223.5 270.98L224.0 270.96L224.5 270.91L225.0 270.84L225.5 270.74L226.0 270.58L226.5 270.37L227.0 270.12L227.5 269.86L228.0 269.62L228.5 269.49L229.0 269.50L229.5 269.66L230.0 269.90L230.5 270.16L231.0 270.40L231.5 270.59L232.0 270.73L232.5 270.83L233.0 270.89L233.5 270.92L234.0 270.94L234.5 270.95L235.0 270.95L235.5 270.94L236.0 270.94L236.5 270.92L237.0 270.91L237.5 270.89L238.0 270.87L238.5 270.84L239.0 270.80L239.5 270.76L240.0 270.70L240.5 270.62L241.0 270.53L241.5 270.40L242.0 270.20L242.5 269.86L243.0 269.22L243.5 268.04L244.0 265.98L244.5 262.85L245.0 258.76L245.5 254.51L246.0 251.73L246.5 252.08L247.0 255.31L247.5 259.63L248.0 263.57L248.5 266.49L249.0 268.34L249.5 269.39L250.0 269.95L250.5 270.26L251.0 270.45L251.5 270.57L252.0 270.66L252.5 270.73L253.0 270.79L253.5 270.84L254.0 270.88L254.5 270.91L255.0 270.93L255.5 270.96L256.0 270.98L256.5 270.99L257.0 271.01L257.5 271.02L258.0 271.03L258.5 271.04L259.0 271.05L259.5 271.05L260.0 271.06L260.5 271.07L261.0 271.07L261.5 271.07L262.0 271.08L262.5 271.08L263.0 271.08L263.5 271.08L264.0 271.08L264.5 271.08L265.0 271.08L265.5 271.08L266.0 271.07L266.5 271.06L267.0 271.05L267.5 271.03L268.0 271.00L268.5 270.95L269.0 270.87L269.5 270.74L270.0 270.57L270.5 270.34L271.0 270.08L271.5 269.83L272.0 269.62L272.5 269.55L273.0 269.63L273.5 269.83L274.0 270.09L274.5 270.35L275.0 270.58L275.5 270.75L276.0 270.88L276.5 270.97L277.0 271.02L277.5 271.05L278.0 271.08L278.5 271.09L279.0 271.10L279.5 271.11L280.0 271.12L280.5 271.12L281.0 271.12L281.5 271.13L282.0 271.13L282.5 271.13L283.0 271.14L283.5 271.14L284.0 271.14L284.5 271.14L285.0 271.14L285.5 271.15L286.0 271.15L286.5 271.15L287.0 271.15L287.5 271.15L288.0 271.15L288.5 271.15L289.0 271.15L289.5 271.15L290.0 271.15L290.5 271.15L291.0 271.15L291.5 271.15L292.0 271.15L292.5 271.15L293.0 271.15L293.5 271.15L294.0 271.16L294.5 271.16L295.0 271.16L295.5 271.16L296.0 271.15L296.5 271.15L297.0 271.15L297.5 271.15L298.0 271.15L298.5 271.15L299.0 271.15L299.5 271.15L300.0 271.15L300.5 271.15L301.0 271.15L301.5 271.15L302.0 271.15L302.5 271.15L303.0 271.15L303.5 271.15L304.0 271.15L304.5 271.15L305.0 271.15L305.5 271.15L306.0 271.14L306.5 271.14L307.0 271.14L307.5 271.14L308.0 271.14L308.5 271.14L309.0 271.14L309.5 271.13L310.0 271.13L310.5 271.13L311.0 271.13L311.5 271.13L312.0 271.12L312.5 271.12L313.0 271.12L313.5 271.11L314.0 271.11L314.5 271.11L315.0 271.10L315.5 271.10L316.0 271.09L316.5 271.09L317.0 271.08L317.5 271.07L318.0 271.07L318.5 271.06L319.0 271.05L319.5 271.04L320.0 271.03L320.5 271.01L321.0 271.00L321.5 270.98L322.0 270.96L322.5 270.93L323.0 270.91L323.5 270.87L324.0 270.84L324.5 270.79L325.0 270.73L325.5 270.66L326.0 270.58L326.5 270.46L327.0 270.31L327.5 270.09L328.0 269.72L328.5 269.04L329.0 267.76L329.5 265.51L330.0 261.97L330.5 257.20L331.0 251.96L331.5 248.03L332.0 247.62L332.5 250.99L333.0 256.14L333.5 261.10L334.0 264.91L334.5 267.40L335.0 268.84L335.5 269.61L336.0 270.03L336.5 270.27L337.0 270.43L337.5 270.55L338.0 270.64L338.5 270.71L339.0 270.77L339.5 270.82L340.0 270.86L340.5 270.89L341.0 270.92L341.5 270.94L342.0 270.96L342.5 270.98L343.0 271.00L343.5 271.01L344.0 271.02L344.5 271.03L345.0 271.04L345.5 271.05L346.0 271.05L346.5 271.06L347.0 271.07L347.5 271.07L348.0 271.07L348.5 271.08L349.0 271.08L349.5 271.08L350.0 271.09L350.5 271.09L351.0 271.09L351.5 271.09L352.0 271.09L352.5 271.09L353.0 271.09L353.5 271.09L354.0 271.09L354.5 271.09L355.0 271.09L355.5 271.09L356.0 271.09L356.5 271.09L357.0 271.09L357.5 271.08L358.0 271.08L358.5 271.08L359.0 271.07L359.5 271.07L360.0 271.07L360.5 271.06L361.0 271.06L361.5 271.05L362.0 271.04L362.5 271.04L363.0 271.03L363.5 271.02L364.0 271.01L364.5 271.00L365.0 270.98L365.5 270.97L366.0 270.95L366.5 270.93L367.0 270.91L367.5 270.88L368.0 270.85L368.5 270.82L369.0 270.78L369.5 270.73L370.0 270.67L370.5 270.60L371.0 270.52L371.5 270.41L372.0 270.28L372.5 270.10L373.0 269.86L373.5 269.48L374.0 268.82L374.5 267.59L375.0 265.32L375.5 261.48L376.0 255.77L376.5 248.62L377.0 241.63L377.5 237.80L378.0 239.53L378.5 245.66L379.0 253.03L379.5 259.42L380.0 264.00L380.5 266.84L381.0 268.42L381.5 269.26L382.0 269.73L382.5 270.02L383.0 270.21L383.5 270.36L384.0 270.48L384.5 270.57L385.0 270.65L385.5 270.71L386.0 270.76L386.5 270.80L387.0 270.84L387.5 270.87L388.0 270.90L388.5 270.92L389.0 270.95L389.5 270.96L390.0 270.98L390.5 270.99L391.0 271.01L391.5 271.02L392.0 271.03L392.5 271.03L393.0 271.04L393.5 271.05L394.0 271.06L394.5 271.06L395.0 271.07L395.5 271.07L396.0 271.07L396.5 271.08L397.0 271.08L397.5 271.08L398.0 271.08L398.5 271.08L399.0 271.08L399.5 271.08L400.0 271.08L400.5 271.08L401.0 271.08L401.5 271.07L402.0 271.07L402.5 271.06L403.0 271.06L403.5 271.05L404.0 271.03L404.5 271.02L405.0 271.00L405.5 270.97L406.0 270.93L406.5 270.86L407.0 270.74L407.5 270.54L408.0 270.21L408.5 269.74L409.0 269.10L409.5 268.36L410.0 267.64L410.5 267.15L411.0 267.10L411.5 267.52L412.0 268.22L412.5 268.97L413.0 269.63L413.5 270.14L414.0 270.49L414.5 270.72L415.0 270.85L415.5 270.93L416.0 270.98L416.5 271.01L417.0 271.04L417.5 271.05L418.0 271.07L418.5 271.08L419.0 271.09L419.5 271.10L420.0 271.10L420.5 271.11L421.0 271.12L421.5 271.12L422.0 271.12L422.5 271.13L423.0 271.13L423.5 271.13L424.0 271.14L424.5 271.14L425.0 271.14L425.5 271.14L426.0 271.14L426.5 271.14L427.0 271.14L427.5 271.15L428.0 271.15L428.5 271.15L429.0 271.15L429.5 271.15L430.0 271.15L430.5 271.15L431.0 271.15L431.5 271.15L432.0 271.15L432.5 271.15L433.0 271.15L433.5 271.15L434.0 271.15L434.5 271.15L435.0 271.15L435.5 271.15L436.0 271.15L436.5 271.15L437.0 271.15L437.5 271.15L438.0 271.15L438.5 271.15L439.0 271.14L439.5 271.14L440.0 271.14L440.5 271.14L441.0 271.14L441.5 271.14L442.0 271.14L442.5 271.13L443.0 271.13L443.5 271.13L444.0 271.13L444.5 271.13L445.0 271.12L445.5 271.12L446.0 271.12L446.5 271.11L447.0 271.11L447.5 271.10L448.0 271.10L448.5 271.09L449.0 271.09L449.5 271.08L450.0 271.07L450.5 271.07L451.0 271.06L451.5 271.04L452.0 271.03L452.5 271.02L453.0 271.00L453.5 270.98L454.0 270.96L454.5 270.93L455.0 270.90L455.5 270.86L456.0 270.81L456.5 270.76L457.0 270.68L457.5 270.58L458.0 270.43L458.5 270.18L459.0 269.72L459.5 268.86L460.0 267.35L460.5 264.98L461.0 261.78L461.5 258.27L462.0 255.64L462.5 255.36L463.0 257.62L463.5 261.06L464.0 264.37L464.5 266.92L465.0 268.58L465.5 269.54L466.0 270.05L466.5 270.32L467.0 270.47L467.5 270.57L468.0 270.64L468.5 270.68L469.0 270.72L469.5 270.74L470.0 270.75L470.5 270.75L471.0 270.74L471.5 270.72L472.0 270.69L472.5 270.64L473.0 270.58L473.5 270.49L474.0 270.35L474.5 270.13L475.0 269.71L475.5 268.91L476.0 267.48L476.5 265.16L477.0 261.92L477.5 258.18L478.0 255.08L478.5 254.20L479.0 256.15L479.5 259.70L480.0 263.33L480.5 266.23L481.0 268.18L481.5 269.34L482.0 269.96L482.5 270.30L483.0 270.49L483.5 270.62L484.0 270.71L484.5 270.78L485.0 270.83L485.5 270.88L486.0 270.91L486.5 270.94L487.0 270.97L487.5 270.99L488.0 271.01L488.5 271.03L489.0 271.04L489.5 271.05L490.0 271.06L490.5 271.07L491.0 271.08L491.5 271.09L492.0 271.10L492.5 271.10L493.0 271.11L493.5 271.11L494.0 271.12L494.5 271.12L495.0 271.12L495.5 271.13L496.0 271.13L496.5 271.13L497.0 271.14L497.5 271.14L498.0 271.14L498.5 271.14L499.0 271.15L499.5 271.15L500.0 271.15L500.5 271.15L501.0 271.15L501.5 271.16L502.0 271.16L502.5 271.16L503.0 271.16L503.5 271.16L504.0 271.16L504.5 271.16L505.0 271.16L505.5 271.16L506.0 271.17L506.5 271.17L507.0 271.17L507.5 271.17L508.0 271.17L508.5 271.17L509.0 271.17L509.5 271.17L510.0 271.17L510.5 271.17L511.0 271.17L511.5 271.17L512.0 271.17L512.5 271.17L513.0 271.17L513.5 271.17L514.0 271.17L514.5 271.17L515.0 271.17L515.5 271.17L516.0 271.17L516.5 271.17L517.0 271.17L517.5 271.17L518.0 271.17L518.5 271.17L519.0 271.17L519.5 271.17L520.0 271.17L520.5 271.17L521.0 271.17L521.5 271.17L522.0 271.17L522.5 271.17L523.0 271.16L523.5 271.16L524.0 271.16L524.5 271.16L525.0 271.15L525.5 271.15L526.0 271.14L526.5 271.13L527.0 271.11L527.5 271.08L528.0 271.03L528.5 270.95L529.0 270.83L529.5 270.67L530.0 270.46L530.5 270.24L531.0 270.06L531.5 269.99L532.0 270.06L532.5 270.24L533.0 270.46L533.5 270.67L534.0 270.84L534.5 270.96L535.0 271.04L535.5 271.08L536.0 271.11L536.5 271.13" fill="none" stroke="#1414d2" stroke-width="2.4" stroke-linejoin="round" stroke-linecap="round"/>
<path d="M44.0 353.60L44.5 353.60L45.0 353.60L45.5 353.60L46.0 353.60L46.5 353.60L47.0 353.60L47.5 353.60L48.0 353.60L48.5 353.60L49.0 353.60L49.5 353.60L50.0 353.60L50.5 353.60L51.0 353.60L51.5 353.60L52.0 353.60L52.5 353.60L53.0 353.60L53.5 353.60L54.0 353.60L54.5 353.60L55.0 353.60L55.5 353.60L56.0 353.59L56.5 353.59L57.0 353.59L57.5 353.59L58.0 353.59L58.5 353.59L59.0 353.59L59.5 353.59L60.0 353.59L60.5 353.59L61.0 353.59L61.5 353.59L62.0 353.59L62.5 353.59L63.0 353.59L63.5 353.59L64.0 353.59L64.5 353.59L65.0 353.59L65.5 353.59L66.0 353.59L66.5 353.59L67.0 353.59L67.5 353.59L68.0 353.59L68.5 353.59L69.0 353.59L69.5 353.59L70.0 353.59L70.5 353.59L71.0 353.59L71.5 353.59L72.0 353.59L72.5 353.59L73.0 353.59L73.5 353.59L74.0 353.59L74.5 353.59L75.0 353.59L75.5 353.59L76.0 353.59L76.5 353.59L77.0 353.59L77.5 353.59L78.0 353.59L78.5 353.59L79.0 353.59L79.5 353.59L80.0 353.59L80.5 353.59L81.0 353.59L81.5 353.59L82.0 353.59L82.5 353.59L83.0 353.59L83.5 353.59L84.0 353.59L84.5 353.59L85.0 353.59L85.5 353.59L86.0 353.59L86.5 353.59L87.0 353.59L87.5 353.59L88.0 353.59L88.5 353.59L89.0 353.59L89.5 353.59L90.0 353.59L90.5 353.59L91.0 353.59L91.5 353.59L92.0 353.59L92.5 353.59L93.0 353.59L93.5 353.59L94.0 353.59L94.5 353.59L95.0 353.59L95.5 353.59L96.0 353.59L96.5 353.59L97.0 353.59L97.5 353.59L98.0 353.59L98.5 353.59L99.0 353.59L99.5 353.59L100.0 353.59L100.5 353.59L101.0 353.59L101.5 353.59L102.0 353.59L102.5 353.59L103.0 353.59L103.5 353.59L104.0 353.59L104.5 353.59L105.0 353.59L105.5 353.59L106.0 353.59L106.5 353.59L107.0 353.59L107.5 353.59L108.0 353.59L108.5 353.59L109.0 353.59L109.5 353.59L110.0 353.59L110.5 353.59L111.0 353.59L111.5 353.59L112.0 353.59L112.5 353.59L113.0 353.59L113.5 353.59L114.0 353.59L114.5 353.59L115.0 353.59L115.5 353.59L116.0 353.59L116.5 353.59L117.0 353.59L117.5 353.59L118.0 353.59L118.5 353.59L119.0 353.59L119.5 353.59L120.0 353.59L120.5 353.59L121.0 353.59L121.5 353.59L122.0 353.59L122.5 353.59L123.0 353.59L123.5 353.59L124.0 353.59L124.5 353.59L125.0 353.59L125.5 353.59L126.0 353.59L126.5 353.59L127.0 353.59L127.5 353.59L128.0 353.59L128.5 353.59L129.0 353.59L129.5 353.59L130.0 353.59L130.5 353.59L131.0 353.58L131.5 353.58L132.0 353.58L132.5 353.58L133.0 353.58L133.5 353.58L134.0 353.58L134.5 353.58L135.0 353.58L135.5 353.58L136.0 353.58L136.5 353.58L137.0 353.58L137.5 353.58L138.0 353.58L138.5 353.58L139.0 353.58L139.5 353.58L140.0 353.58L140.5 353.58L141.0 353.58L141.5 353.58L142.0 353.58L142.5 353.58L143.0 353.58L143.5 353.58L144.0 353.58L144.5 353.58L145.0 353.58L145.5 353.58L146.0 353.58L146.5 353.58L147.0 353.58L147.5 353.58L148.0 353.58L148.5 353.58L149.0 353.58L149.5 353.58L150.0 353.58L150.5 353.58L151.0 353.58L151.5 353.58L152.0 353.57L152.5 353.57L153.0 353.57L153.5 353.57L154.0 353.57L154.5 353.57L155.0 353.57L155.5 353.57L156.0 353.57L156.5 353.57L157.0 353.57L157.5 353.57L158.0 353.57L158.5 353.57L159.0 353.57L159.5 353.57L160.0 353.57L160.5 353.57L161.0 353.57L161.5 353.57L162.0 353.57L162.5 353.56L163.0 353.56L163.5 353.56L164.0 353.56L164.5 353.56L165.0 353.56L165.5 353.56L166.0 353.56L166.5 353.56L167.0 353.56L167.5 353.56L168.0 353.56L168.5 353.56L169.0 353.55L169.5 353.55L170.0 353.55L170.5 353.55L171.0 353.55L171.5 353.55L172.0 353.55L172.5 353.55L173.0 353.55L173.5 353.54L174.0 353.54L174.5 353.54L175.0 353.54L175.5 353.54L176.0 353.54L176.5 353.54L177.0 353.53L177.5 353.53L178.0 353.53L178.5 353.53L179.0 353.53L179.5 353.52L180.0 353.52L180.5 353.52L181.0 353.52L181.5 353.51L182.0 353.51L182.5 353.51L183.0 353.50L183.5 353.50L184.0 353.50L184.5 353.49L185.0 353.49L185.5 353.49L186.0 353.48L186.5 353.48L187.0 353.47L187.5 353.47L188.0 353.46L188.5 353.46L189.0 353.45L189.5 353.44L190.0 353.44L190.5 353.43L191.0 353.42L191.5 353.41L192.0 353.40L192.5 353.39L193.0 353.38L193.5 353.37L194.0 353.35L194.5 353.34L195.0 353.32L195.5 353.30L196.0 353.28L196.5 353.26L197.0 353.23L197.5 353.21L198.0 353.17L198.5 353.14L199.0 353.10L199.5 353.05L200.0 353.00L200.5 352.94L201.0 352.86L201.5 352.78L202.0 352.68L202.5 352.56L203.0 352.42L203.5 352.25L204.0 352.03L204.5 351.75L205.0 351.38L205.5 350.86L206.0 350.06L206.5 348.70L207.0 346.38L207.5 342.51L208.0 336.59L208.5 328.50L209.0 319.04L209.5 310.57L210.0 306.97L210.5 310.57L211.0 319.04L211.5 328.50L212.0 336.59L212.5 342.51L213.0 346.37L213.5 348.70L214.0 350.05L214.5 350.86L215.0 351.38L215.5 351.74L216.0 352.02L216.5 352.23L217.0 352.41L217.5 352.55L218.0 352.67L218.5 352.76L219.0 352.85L219.5 352.92L220.0 352.98L220.5 353.03L221.0 353.08L221.5 353.12L222.0 353.15L222.5 353.18L223.0 353.21L223.5 353.23L224.0 353.25L224.5 353.27L225.0 353.29L225.5 353.30L226.0 353.32L226.5 353.33L227.0 353.34L227.5 353.35L228.0 353.36L228.5 353.37L229.0 353.38L229.5 353.38L230.0 353.39L230.5 353.40L231.0 353.40L231.5 353.41L232.0 353.41L232.5 353.41L233.0 353.42L233.5 353.42L234.0 353.42L234.5 353.42L235.0 353.42L235.5 353.43L236.0 353.43L236.5 353.43L237.0 353.43L237.5 353.43L238.0 353.43L238.5 353.43L239.0 353.43L239.5 353.43L240.0 353.43L240.5 353.42L241.0 353.42L241.5 353.42L242.0 353.42L242.5 353.41L243.0 353.41L243.5 353.41L244.0 353.40L244.5 353.40L245.0 353.40L245.5 353.39L246.0 353.39L246.5 353.38L247.0 353.37L247.5 353.37L248.0 353.36L248.5 353.35L249.0 353.34L249.5 353.33L250.0 353.32L250.5 353.31L251.0 353.30L251.5 353.28L252.0 353.27L252.5 353.25L253.0 353.23L253.5 353.22L254.0 353.19L254.5 353.17L255.0 353.15L255.5 353.12L256.0 353.08L256.5 353.05L257.0 353.01L257.5 352.97L258.0 352.92L258.5 352.86L259.0 352.80L259.5 352.72L260.0 352.64L260.5 352.54L261.0 352.43L261.5 352.30L262.0 352.14L262.5 351.96L263.0 351.73L263.5 351.46L264.0 351.12L264.5 350.69L265.0 350.12L265.5 349.33L266.0 348.13L266.5 346.14L267.0 342.71L267.5 336.96L268.0 327.98L268.5 315.38L269.0 300.11L269.5 285.44L270.0 277.43L270.5 281.05L271.0 293.89L271.5 309.48L272.0 323.36L272.5 333.80L273.0 340.75L273.5 344.99L274.0 347.46L274.5 348.92L275.0 349.85L275.5 350.49L276.0 350.96L276.5 351.34L277.0 351.64L277.5 351.88L278.0 352.08L278.5 352.25L279.0 352.39L279.5 352.51L280.0 352.61L280.5 352.70L281.0 352.78L281.5 352.85L282.0 352.91L282.5 352.96L283.0 353.01L283.5 353.05L284.0 353.09L284.5 353.12L285.0 353.15L285.5 353.18L286.0 353.20L286.5 353.23L287.0 353.25L287.5 353.27L288.0 353.29L288.5 353.30L289.0 353.32L289.5 353.33L290.0 353.34L290.5 353.36L291.0 353.37L291.5 353.38L292.0 353.39L292.5 353.40L293.0 353.40L293.5 353.41L294.0 353.42L294.5 353.43L295.0 353.43L295.5 353.44L296.0 353.44L296.5 353.45L297.0 353.46L297.5 353.46L298.0 353.46L298.5 353.47L299.0 353.47L299.5 353.48L300.0 353.48L300.5 353.48L301.0 353.49L301.5 353.49L302.0 353.49L302.5 353.50L303.0 353.50L303.5 353.50L304.0 353.51L304.5 353.51L305.0 353.51L305.5 353.51L306.0 353.52L306.5 353.52L307.0 353.52L307.5 353.52L308.0 353.52L308.5 353.53L309.0 353.53L309.5 353.53L310.0 353.53L310.5 353.53L311.0 353.53L311.5 353.53L312.0 353.54L312.5 353.54L313.0 353.54L313.5 353.54L314.0 353.54L314.5 353.54L315.0 353.54L315.5 353.54L316.0 353.55L316.5 353.55L317.0 353.55L317.5 353.55L318.0 353.55L318.5 353.55L319.0 353.55L319.5 353.55L320.0 353.55L320.5 353.55L321.0 353.55L321.5 353.56L322.0 353.56L322.5 353.56L323.0 353.56L323.5 353.56L324.0 353.56L324.5 353.56L325.0 353.56L325.5 353.56L326.0 353.56L326.5 353.56L327.0 353.56L327.5 353.56L328.0 353.56L328.5 353.56L329.0 353.56L329.5 353.56L330.0 353.57L330.5 353.57L331.0 353.57L331.5 353.57L332.0 353.57L332.5 353.57L333.0 353.57L333.5 353.57L334.0 353.57L334.5 353.57L335.0 353.57L335.5 353.57L336.0 353.57L336.5 353.57L337.0 353.57L337.5 353.57L338.0 353.57L338.5 353.57L339.0 353.57L339.5 353.57L340.0 353.57L340.5 353.57L341.0 353.57L341.5 353.57L342.0 353.57L342.5 353.57L343.0 353.57L343.5 353.57L344.0 353.57L344.5 353.57L345.0 353.58L345.5 353.58L346.0 353.58L346.5 353.58L347.0 353.58L347.5 353.58L348.0 353.58L348.5 353.58L349.0 353.58L349.5 353.58L350.0 353.58L350.5 353.58L351.0 353.58L351.5 353.58L352.0 353.58L352.5 353.58L353.0 353.58L353.5 353.58L354.0 353.58L354.5 353.58L355.0 353.58L355.5 353.58L356.0 353.58L356.5 353.58L357.0 353.58L357.5 353.58L358.0 353.58L358.5 353.58L359.0 353.58L359.5 353.58L360.0 353.58L360.5 353.58L361.0 353.58L361.5 353.58L362.0 353.58L362.5 353.58L363.0 353.58L363.5 353.58L364.0 353.58L364.5 353.58L365.0 353.58L365.5 353.58L366.0 353.58L366.5 353.58L367.0 353.58L367.5 353.58L368.0 353.58L368.5 353.58L369.0 353.58L369.5 353.58L370.0 353.58L370.5 353.58L371.0 353.58L371.5 353.58L372.0 353.58L372.5 353.58L373.0 353.58L373.5 353.58L374.0 353.58L374.5 353.58L375.0 353.58L375.5 353.58L376.0 353.58L376.5 353.58L377.0 353.58L377.5 353.58L378.0 353.58L378.5 353.58L379.0 353.58L379.5 353.58L380.0 353.58L380.5 353.58L381.0 353.58L381.5 353.58L382.0 353.58L382.5 353.58L383.0 353.58L383.5 353.58L384.0 353.58L384.5 353.58L385.0 353.58L385.5 353.58L386.0 353.58L386.5 353.58L387.0 353.58L387.5 353.58L388.0 353.58L388.5 353.58L389.0 353.58L389.5 353.58L390.0 353.58L390.5 353.58L391.0 353.58L391.5 353.58L392.0 353.58L392.5 353.58L393.0 353.58L393.5 353.58L394.0 353.58L394.5 353.58L395.0 353.58L395.5 353.58L396.0 353.58L396.5 353.58L397.0 353.58L397.5 353.58L398.0 353.58L398.5 353.58L399.0 353.58L399.5 353.58L400.0 353.58L400.5 353.58L401.0 353.58L401.5 353.58L402.0 353.58L402.5 353.58L403.0 353.58L403.5 353.58L404.0 353.58L404.5 353.58L405.0 353.58L405.5 353.58L406.0 353.58L406.5 353.58L407.0 353.58L407.5 353.58L408.0 353.58L408.5 353.58L409.0 353.57L409.5 353.57L410.0 353.57L410.5 353.57L411.0 353.57L411.5 353.57L412.0 353.57L412.5 353.57L413.0 353.57L413.5 353.57L414.0 353.57L414.5 353.57L415.0 353.57L415.5 353.57L416.0 353.57L416.5 353.57L417.0 353.57L417.5 353.57L418.0 353.57L418.5 353.57L419.0 353.57L419.5 353.57L420.0 353.57L420.5 353.57L421.0 353.56L421.5 353.56L422.0 353.56L422.5 353.56L423.0 353.56L423.5 353.56L424.0 353.56L424.5 353.56L425.0 353.56L425.5 353.56L426.0 353.56L426.5 353.56L427.0 353.56L427.5 353.55L428.0 353.55L428.5 353.55L429.0 353.55L429.5 353.55L430.0 353.55L430.5 353.55L431.0 353.55L431.5 353.54L432.0 353.54L432.5 353.54L433.0 353.54L433.5 353.54L434.0 353.54L434.5 353.54L435.0 353.53L435.5 353.53L436.0 353.53L436.5 353.53L437.0 353.52L437.5 353.52L438.0 353.52L438.5 353.52L439.0 353.51L439.5 353.51L440.0 353.51L440.5 353.50L441.0 353.50L441.5 353.50L442.0 353.49L442.5 353.49L443.0 353.48L443.5 353.48L444.0 353.47L444.5 353.47L445.0 353.46L445.5 353.46L446.0 353.45L446.5 353.44L447.0 353.43L447.5 353.42L448.0 353.41L448.5 353.40L449.0 353.39L449.5 353.38L450.0 353.37L450.5 353.35L451.0 353.34L451.5 353.32L452.0 353.30L452.5 353.28L453.0 353.25L453.5 353.23L454.0 353.20L454.5 353.16L455.0 353.12L455.5 353.08L456.0 353.03L456.5 352.97L457.0 352.90L457.5 352.82L458.0 352.73L458.5 352.62L459.0 352.49L459.5 352.32L460.0 352.12L460.5 351.87L461.0 351.54L461.5 351.09L462.0 350.41L462.5 349.30L463.0 347.40L463.5 344.18L464.0 339.07L464.5 331.72L465.0 322.51L465.5 313.12L466.0 307.01L466.5 307.77L467.0 314.87L467.5 324.45L468.0 333.36L468.5 340.27L469.0 344.96L469.5 347.87L470.0 349.57L470.5 350.57L471.0 351.19L471.5 351.61L472.0 351.93L472.5 352.17L473.0 352.36L473.5 352.52L474.0 352.64L474.5 352.75L475.0 352.84L475.5 352.92L476.0 352.98L476.5 353.04L477.0 353.09L477.5 353.13L478.0 353.17L478.5 353.20L479.0 353.23L479.5 353.26L480.0 353.28L480.5 353.31L481.0 353.32L481.5 353.34L482.0 353.36L482.5 353.37L483.0 353.38L483.5 353.40L484.0 353.41L484.5 353.42L485.0 353.43L485.5 353.44L486.0 353.44L486.5 353.45L487.0 353.46L487.5 353.46L488.0 353.47L488.5 353.48L489.0 353.48L489.5 353.49L490.0 353.49L490.5 353.50L491.0 353.50L491.5 353.50L492.0 353.51L492.5 353.51L493.0 353.51L493.5 353.52L494.0 353.52L494.5 353.52L495.0 353.52L495.5 353.53L496.0 353.53L496.5 353.53L497.0 353.53L497.5 353.54L498.0 353.54L498.5 353.54L499.0 353.54L499.5 353.54L500.0 353.54L500.5 353.55L501.0 353.55L501.5 353.55L502.0 353.55L502.5 353.55L503.0 353.55L503.5 353.55L504.0 353.56L504.5 353.56L505.0 353.56L505.5 353.56L506.0 353.56L506.5 353.56L507.0 353.56L507.5 353.56L508.0 353.56L508.5 353.56L509.0 353.56L509.5 353.57L510.0 353.57L510.5 353.57L511.0 353.57L511.5 353.57L512.0 353.57L512.5 353.57L513.0 353.57L513.5 353.57L514.0 353.57L514.5 353.57L515.0 353.57L515.5 353.57L516.0 353.57L516.5 353.57L517.0 353.57L517.5 353.57L518.0 353.58L518.5 353.58L519.0 353.58L519.5 353.58L520.0 353.58L520.5 353.58L521.0 353.58L521.5 353.58L522.0 353.58L522.5 353.58L523.0 353.58L523.5 353.58L524.0 353.58L524.5 353.58L525.0 353.58L525.5 353.58L526.0 353.58L526.5 353.58L527.0 353.58L527.5 353.58L528.0 353.58L528.5 353.58L529.0 353.58L529.5 353.58L530.0 353.58L530.5 353.58L531.0 353.58L531.5 353.58L532.0 353.58L532.5 353.58L533.0 353.58L533.5 353.58L534.0 353.58L534.5 353.59L535.0 353.59L535.5 353.59L536.0 353.59L536.5 353.59" fill="none" stroke="#000" stroke-width="2.1" stroke-linejoin="round" stroke-linecap="round"/>
<rect x="37.3" y="6.2" width="499.9" height="356" fill="none" stroke="#000" stroke-width="2"/>
<path d="M137.3 354V362M237.3 354V362M337.3 354V362M437.3 354V362M87.2 357.6V362M187.2 357.6V362M287.2 357.6V362M387.2 357.6V362M487.2 357.6V362" stroke="#000" stroke-width="2" fill="none"/>
<text x="37" y="383.8" class="tl" text-anchor="middle">20</text>
<text x="137" y="383.8" class="tl" text-anchor="middle">30</text>
<text x="237" y="383.8" class="tl" text-anchor="middle">40</text>
<text x="337" y="383.8" class="tl" text-anchor="middle">50</text>
<text x="437" y="383.8" class="tl" text-anchor="middle">60</text>
<text x="537" y="383.8" class="tl" text-anchor="middle">70</text>
<text x="263" y="401.7" class="ax" letter-spacing="-0.35">2θ /°</text>
<text transform="translate(21.1 262) rotate(-90)" class="ax">intensity /a.u.</text>
<text x="48.9" y="38.2" class="lg" fill="#b91c30" stroke="#b91c30">sample treated at  800°C</text>
<text x="48.5" y="114.6" class="lg" fill="#202070" stroke="#202070">sample treated at  600°C</text>
<text x="47.6" y="174.8" class="lg" fill="#2626b4" stroke="#2626b4">NiTiO<tspan font-size="8.2" dy="4.8" stroke-width="0.15">3</tspan></text>
<text x="43.7" y="196.5" class="lg" fill="#2626b4" stroke="#2626b4">PDF No.89-7131</text>
<text x="53.8" y="292.8" class="lg" fill="#1a1a1a" stroke="#1a1a1a">NiO</text>
<text x="53.6" y="310.9" class="lg" fill="#1a1a1a" stroke="#1a1a1a">PDF No.3–1154</text>
<text transform="translate(79.4 219.6) rotate(-90) scale(1.07 1)" class="hkl" text-anchor="middle" dominant-baseline="central"><tspan class="par">（</tspan><tspan dx="1.7">012</tspan><tspan class="par" dx="1.7">）</tspan></text>
<text transform="translate(168.1 177.8) rotate(-90) scale(1.07 1)" class="hkl" text-anchor="middle" dominant-baseline="central"><tspan class="par">（</tspan><tspan dx="1.7">104</tspan><tspan class="par" dx="1.7">）</tspan></text>
<text transform="translate(197.9 195.6) rotate(-90) scale(1.07 1)" class="hkl" text-anchor="middle" dominant-baseline="central"><tspan class="par">（</tspan><tspan dx="1.7">110</tspan><tspan class="par" dx="1.7">）</tspan></text>
<text transform="translate(246.5 228.4) rotate(-90) scale(1.07 1)" class="hkl" text-anchor="middle" dominant-baseline="central"><tspan class="par">（</tspan><tspan dx="1.7">113</tspan><tspan class="par" dx="1.7">）</tspan></text>
<text transform="translate(332.9 227.3) rotate(-90) scale(1.07 1)" class="hkl" text-anchor="middle" dominant-baseline="central"><tspan class="par">（</tspan><tspan dx="1.7">014</tspan><tspan class="par" dx="1.7">）</tspan></text>
<text transform="translate(378.3 219.3) rotate(-90) scale(1.07 1)" class="hkl" text-anchor="middle" dominant-baseline="central"><tspan class="par">（</tspan><tspan dx="1.7">116</tspan><tspan class="par" dx="1.7">）</tspan></text>
<text transform="translate(411.5 244.2) rotate(-90) scale(1.07 1)" class="hkl" text-anchor="middle" dominant-baseline="central"><tspan class="par">（</tspan><tspan dx="1.7">018</tspan><tspan class="par" dx="1.7">）</tspan></text>
<text transform="translate(458.4 238.8) rotate(-90) scale(1.07 1)" class="hkl" text-anchor="middle" dominant-baseline="central"><tspan class="par">（</tspan><tspan dx="1.7">220</tspan><tspan class="par" dx="1.7">）</tspan></text>
<text transform="translate(480.6 238.0) rotate(-90) scale(1.07 1)" class="hkl" text-anchor="middle" dominant-baseline="central"><tspan class="par">（</tspan><tspan dx="1.7">300</tspan><tspan class="par" dx="1.7">）</tspan></text>
<text transform="translate(210.0 289.8) rotate(-90) scale(1.07 1)" class="hkl" text-anchor="middle" dominant-baseline="central"><tspan class="par">（</tspan><tspan dx="1.7">111</tspan><tspan class="par" dx="1.7">）</tspan></text>
<text transform="translate(261.0 294.6) rotate(-90) scale(1.07 1)" class="hkl" text-anchor="middle" dominant-baseline="central"><tspan class="par">（</tspan><tspan dx="1.7">200</tspan><tspan class="par" dx="1.7">）</tspan></text>
<text transform="translate(465.7 285.9) rotate(-90) scale(1.07 1)" class="hkl" text-anchor="middle" dominant-baseline="central"><tspan class="par">（</tspan><tspan dx="1.7">220</tspan><tspan class="par" dx="1.7">）</tspan></text>
</svg>
</body></html>
